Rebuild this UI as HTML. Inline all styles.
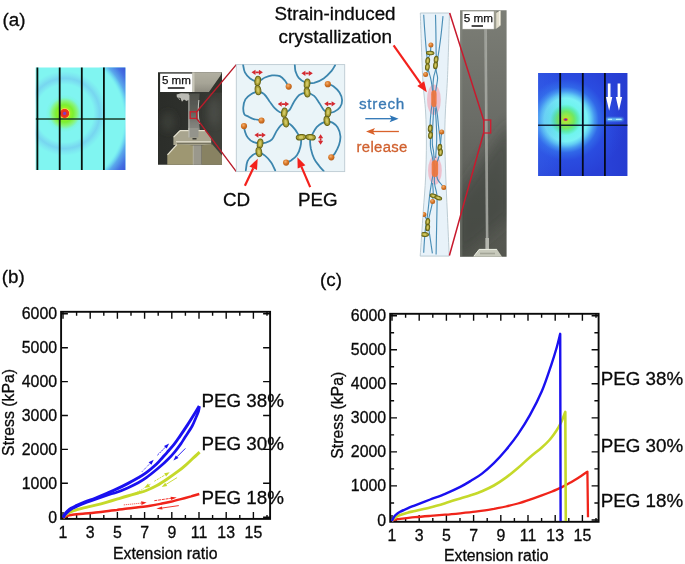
<!DOCTYPE html>
<html><head><meta charset="utf-8"><title>Figure</title>
<style>
html,body{margin:0;padding:0;background:#fff;}
body{width:685px;height:564px;overflow:hidden;font-family:"Liberation Sans",sans-serif;}
svg{display:block;}
text{font-family:"Liberation Sans",sans-serif;fill:#0a0a0a;stroke:#0a0a0a;stroke-width:0.3px;}
.tk{stroke:#0a0a0a;stroke-width:1.4;fill:none;}
.tl{font-size:15.9px;}
.big{font-size:18.8px;}
</style></head><body>
<svg width="685" height="564" viewBox="0 0 685 564">
<defs>

<radialGradient id="gL" gradientUnits="userSpaceOnUse" cx="64.6" cy="113.4" r="90">
<stop offset="0" stop-color="#7a3cc8"/>
<stop offset="0.012" stop-color="#8040c0"/>
<stop offset="0.024" stop-color="#e8301c"/>
<stop offset="0.046" stop-color="#ee3a1c"/>
<stop offset="0.054" stop-color="#f4d840"/>
<stop offset="0.064" stop-color="#98f028"/>
<stop offset="0.095" stop-color="#7cf030"/>
<stop offset="0.135" stop-color="#88f478"/>
<stop offset="0.175" stop-color="#7cf6e0"/>
<stop offset="0.21" stop-color="#80f5f1"/>
<stop offset="0.32" stop-color="#80f5f1"/>
<stop offset="0.35" stop-color="#7de7f1"/>
<stop offset="0.39" stop-color="#77d6f0"/>
<stop offset="0.43" stop-color="#7de7f1"/>
<stop offset="0.47" stop-color="#80f5f1"/>
<stop offset="1" stop-color="#80f5f1"/>
</radialGradient>
<radialGradient id="gLo" gradientUnits="userSpaceOnUse" cx="56.8" cy="119.3" r="95">
<stop offset="0" stop-color="#80f5f1" stop-opacity="0"/>
<stop offset="0.70" stop-color="#80f5f1" stop-opacity="0"/>
<stop offset="0.735" stop-color="#6cd8f2" stop-opacity="0.8"/>
<stop offset="0.77" stop-color="#5aa8ec" stop-opacity="1"/>
<stop offset="0.84" stop-color="#4470e2"/>
<stop offset="0.92" stop-color="#3850d4"/>
<stop offset="1" stop-color="#3040c8"/>
</radialGradient>
<radialGradient id="gR" gradientUnits="userSpaceOnUse" cx="565.7" cy="119.8" r="60">
<stop offset="0" stop-color="#b8e838"/>
<stop offset="0.07" stop-color="#9ce840"/>
<stop offset="0.14" stop-color="#70e862"/>
<stop offset="0.2" stop-color="#5cecb0"/>
<stop offset="0.26" stop-color="#70f4ee"/>
<stop offset="0.36" stop-color="#7af2f6"/>
<stop offset="0.42" stop-color="#62cef4"/>
<stop offset="0.48" stop-color="#4698f0"/>
<stop offset="0.55" stop-color="#3168e8"/>
<stop offset="0.68" stop-color="#2a4ce0"/>
<stop offset="1" stop-color="#2840d6"/>
</radialGradient>
<linearGradient id="gRv" x1="0" y1="0" x2="1" y2="0">
<stop offset="0" stop-color="#3a70f0" stop-opacity="0.35"/>
<stop offset="0.3" stop-color="#3a70f0" stop-opacity="0"/>
<stop offset="0.8" stop-color="#2030c0" stop-opacity="0"/>
<stop offset="1" stop-color="#2030c0" stop-opacity="0.25"/>
</linearGradient>
<filter id="b1" x="-20%" y="-20%" width="140%" height="140%"><feGaussianBlur stdDeviation="0.6"/></filter>
<filter id="b2" filterUnits="userSpaceOnUse" x="600" y="110" width="30" height="20"><feGaussianBlur stdDeviation="0.9"/></filter>
<clipPath id="cL"><rect x="35.6" y="67.6" width="89.8" height="102.3"/></clipPath>
<clipPath id="cR"><rect x="538.1" y="73.1" width="89.3" height="103"/></clipPath>

<linearGradient id="phbg" x1="0" y1="0" x2="1" y2="0.3">
<stop offset="0" stop-color="#2a2c28"/><stop offset="0.55" stop-color="#2e302c"/><stop offset="1" stop-color="#3e403a"/>
</linearGradient>
<linearGradient id="clampT" x1="0" y1="0" x2="0" y2="1">
<stop offset="0" stop-color="#b4b2a4"/><stop offset="0.6" stop-color="#a6a496"/><stop offset="1" stop-color="#8e8c80"/>
</linearGradient>
<linearGradient id="stripG" x1="0" y1="0" x2="1" y2="0">
<stop offset="0" stop-color="#c4c4bc"/><stop offset="0.2" stop-color="#8e8e88"/><stop offset="0.75" stop-color="#7c7c76"/><stop offset="1" stop-color="#b0b0a8"/>
</linearGradient>
<linearGradient id="stripV" x1="0" y1="0" x2="0" y2="1">
<stop offset="0" stop-color="#50524c"/><stop offset="0.4" stop-color="#5c5e58"/><stop offset="0.7" stop-color="#7e7e78"/><stop offset="1" stop-color="#90908a"/>
</linearGradient>
<filter id="bf3" filterUnits="userSpaceOnUse" x="150" y="60" width="80" height="110"><feGaussianBlur stdDeviation="3.5"/></filter>
<filter id="bf" filterUnits="userSpaceOnUse" x="150" y="60" width="80" height="110"><feGaussianBlur stdDeviation="0.7"/></filter>
<filter id="bf2" filterUnits="userSpaceOnUse" x="150" y="60" width="80" height="110"><feGaussianBlur stdDeviation="0.45"/></filter>
<clipPath id="cP"><rect x="158" y="72.3" width="64" height="92.5"/></clipPath>

<radialGradient id="bead" cx="0.4" cy="0.35" r="0.7"><stop offset="0" stop-color="#f4b070"/><stop offset="0.5" stop-color="#d87828"/><stop offset="1" stop-color="#b05a18"/></radialGradient>
<clipPath id="cS"><rect x="236.3" y="64.6" width="108.4" height="107"/></clipPath>

<linearGradient id="lpbg" x1="0" y1="0" x2="0.35" y2="1">
<stop offset="0" stop-color="#74766e"/><stop offset="0.35" stop-color="#686a62"/><stop offset="0.6" stop-color="#5a5c56"/><stop offset="0.8" stop-color="#46484300"/><stop offset="1" stop-color="#3c3e3a00"/>
</linearGradient>
<linearGradient id="lpbg2" x1="0" y1="0" x2="0" y2="1">
<stop offset="0" stop-color="#7c7e76"/><stop offset="0.45" stop-color="#6a6c66"/><stop offset="0.75" stop-color="#5a5c56"/><stop offset="1" stop-color="#54564f"/>
</linearGradient>
<radialGradient id="pinkG"><stop offset="0" stop-color="#f08a90" stop-opacity="0.75"/><stop offset="0.7" stop-color="#f0a0a8" stop-opacity="0.6"/><stop offset="1" stop-color="#f0b0b8" stop-opacity="0.15"/></radialGradient>
<radialGradient id="orgG"><stop offset="0" stop-color="#f2702c"/><stop offset="0.7" stop-color="#f0783a"/><stop offset="1" stop-color="#f08a5a" stop-opacity="0.5"/></radialGradient>
<filter id="bl5" filterUnits="userSpaceOnUse" x="440" y="80" width="90" height="200"><feGaussianBlur stdDeviation="7"/></filter>
<filter id="bl4" filterUnits="userSpaceOnUse" x="455" y="5" width="60" height="260"><feGaussianBlur stdDeviation="0.5"/></filter>
<clipPath id="cLP"><rect x="460.1" y="10.2" width="46.5" height="246.6"/></clipPath>

</defs>
<rect width="685" height="564" fill="#fff"/>

<g id="graph-b">
<rect x="61.1" y="311.8" width="209.00000000000003" height="207.09999999999997" fill="none" stroke="#0a0a0a" stroke-width="1.9"/>
<path class="tk" d="M63.0 518.9v-6.9M63.0 311.8v6.9M76.6 518.9v-3.9M76.6 311.8v3.9M90.2 518.9v-6.9M90.2 311.8v6.9M103.8 518.9v-3.9M103.8 311.8v3.9M117.4 518.9v-6.9M117.4 311.8v6.9M131.0 518.9v-3.9M131.0 311.8v3.9M144.6 518.9v-6.9M144.6 311.8v6.9M158.2 518.9v-3.9M158.2 311.8v3.9M171.8 518.9v-6.9M171.8 311.8v6.9M185.4 518.9v-3.9M185.4 311.8v3.9M199.0 518.9v-6.9M199.0 311.8v6.9M212.6 518.9v-3.9M212.6 311.8v3.9M226.2 518.9v-6.9M226.2 311.8v6.9M239.8 518.9v-3.9M239.8 311.8v3.9M253.4 518.9v-6.9M253.4 311.8v6.9M267.0 518.9v-3.9M267.0 311.8v3.9M61.1 517.2h6.8M270.1 517.2h-7M61.1 483.3h6.8M270.1 483.3h-7M61.1 449.4h6.8M270.1 449.4h-7M61.1 415.5h6.8M270.1 415.5h-7M61.1 381.6h6.8M270.1 381.6h-7M61.1 347.7h6.8M270.1 347.7h-7M61.1 313.8h6.8M270.1 313.8h-7"/>
<text class="tl" x="57.1" y="522.7" text-anchor="end">0</text>
<text class="tl" x="57.1" y="488.8" text-anchor="end">1000</text>
<text class="tl" x="57.1" y="454.9" text-anchor="end">2000</text>
<text class="tl" x="57.1" y="421.0" text-anchor="end">3000</text>
<text class="tl" x="57.1" y="387.1" text-anchor="end">4000</text>
<text class="tl" x="57.1" y="353.2" text-anchor="end">5000</text>
<text class="tl" x="57.1" y="319.3" text-anchor="end">6000</text>
<text class="tl" x="63.0" y="538.4" text-anchor="middle">1</text>
<text class="tl" x="90.2" y="538.4" text-anchor="middle">3</text>
<text class="tl" x="117.4" y="538.4" text-anchor="middle">5</text>
<text class="tl" x="144.6" y="538.4" text-anchor="middle">7</text>
<text class="tl" x="171.8" y="538.4" text-anchor="middle">9</text>
<text class="tl" x="199.0" y="538.4" text-anchor="middle">11</text>
<text class="tl" x="226.2" y="538.4" text-anchor="middle">13</text>
<text class="tl" x="253.4" y="538.4" text-anchor="middle">15</text>
<text x="113" y="559" style="font-size:15.8px">Extension ratio</text>
<text transform="translate(13.8,455.9) rotate(-90)" style="font-size:15.8px">Stress (kPa)</text>
<text class="big" x="1.8" y="283.2">(b)</text>
<path d="M63.2 518.0C63.5 517.8 64.2 517.1 64.8 516.8C65.4 516.5 65.7 516.3 66.7 516.0C67.8 515.7 68.0 515.3 71.1 514.9C74.1 514.5 80.9 514.0 85.0 513.6C89.1 513.2 92.0 512.9 95.6 512.5C99.1 512.1 102.8 511.7 106.3 511.3C109.8 510.9 113.4 510.3 116.9 509.9C120.5 509.4 124.0 509.1 127.6 508.6C131.1 508.2 134.4 507.7 138.2 507.2C142.0 506.7 146.5 506.4 150.2 505.8C153.9 505.2 157.0 504.6 160.4 503.9C163.8 503.2 167.3 502.5 170.7 501.7C174.1 500.9 177.5 500.0 180.9 499.1C184.3 498.2 188.0 497.2 191.1 496.4C194.2 495.5 197.9 494.4 199.3 494.0" fill="none" stroke="#f0241a" stroke-width="2.5" stroke-linecap="butt"/>
<path d="M63.2 517.8C63.5 517.5 64.2 516.4 64.8 515.8C65.4 515.2 65.7 514.8 66.7 514.1C67.8 513.4 69.4 512.3 71.1 511.6C72.8 510.9 74.6 510.4 76.9 509.7C79.2 509.0 81.9 508.4 85.0 507.6C88.1 506.9 92.0 506.1 95.6 505.2C99.1 504.3 102.8 503.3 106.3 502.3C109.8 501.3 113.4 500.2 116.9 499.2C120.5 498.1 124.0 497.0 127.6 496.0C131.1 495.0 135.1 493.9 138.2 493.0C141.3 492.1 143.2 491.7 146.3 490.5C149.4 489.3 153.4 487.6 156.9 485.6C160.4 483.7 164.1 481.2 167.6 478.8C171.1 476.4 175.1 473.5 178.2 471.2C181.3 468.9 183.5 467.0 186.0 464.8C188.5 462.6 191.1 460.0 193.4 457.9C195.7 455.8 198.6 453.1 199.6 452.1" fill="none" stroke="#c5d92a" stroke-width="2.9" stroke-linecap="butt"/>
<path d="M63.2 517.6C63.5 517.2 64.2 516.0 64.8 515.2C65.4 514.4 65.8 513.7 66.9 512.7C68.0 511.7 69.6 510.2 71.3 509.1C73.0 508.0 74.8 507.2 77.1 506.2C79.4 505.2 81.9 504.1 85.0 502.9C88.1 501.7 92.0 500.4 95.6 499.2C99.1 497.9 102.8 496.6 106.3 495.4C109.8 494.2 113.4 493.4 116.9 492.2C120.5 490.9 124.0 489.5 127.6 487.9C131.1 486.3 135.1 484.4 138.2 482.7C141.3 481.0 143.2 479.9 146.3 477.6C149.4 475.4 154.0 471.6 156.9 469.2C159.8 466.8 161.8 465.1 163.6 463.5C165.4 461.9 166.1 461.2 168.0 459.3C169.9 457.4 172.6 454.4 174.8 451.8C177.0 449.2 179.3 446.0 181.0 443.6C182.7 441.2 183.1 440.1 185.0 437.2C186.9 434.3 190.4 429.3 192.2 426.0C194.0 422.7 194.9 420.0 196.0 417.5C197.1 415.0 198.0 412.9 198.6 411.0C199.2 409.1 199.3 407.1 199.4 406.3" fill="none" stroke="#1a10f0" stroke-width="2.7" stroke-linecap="butt"/>
<path d="M63.2 517.6C63.4 517.1 64.0 515.6 64.6 514.6C65.2 513.6 65.6 512.9 66.7 511.9C67.8 510.8 69.4 509.4 71.1 508.3C72.8 507.2 74.6 506.5 76.9 505.4C79.2 504.3 81.9 503.1 85.0 501.9C88.1 500.7 92.0 499.4 95.6 498.0C99.1 496.6 102.8 495.1 106.3 493.6C109.8 492.1 113.4 490.6 116.9 488.9C120.5 487.2 124.0 485.5 127.6 483.6C131.1 481.7 135.1 479.5 138.2 477.7C141.3 475.9 143.2 474.9 146.3 472.6C149.4 470.3 153.9 466.5 156.6 464.0C159.3 461.5 160.6 459.7 162.4 457.7C164.2 455.7 165.5 454.3 167.6 451.9C169.7 449.5 172.7 446.1 174.8 443.4C176.9 440.7 178.2 438.6 180.3 435.6C182.4 432.6 185.0 428.8 187.2 425.4C189.4 422.0 191.4 418.7 193.4 415.5C195.4 412.3 198.2 407.7 199.2 406.1" fill="none" stroke="#1a10f0" stroke-width="2.9" stroke-linecap="butt"/>
<path d="M142.0 471.7L150.0 463.5" stroke="#1a10f0" stroke-width="0.9" fill="none" stroke-dasharray="1 1"/>
<path d="M153.7 459.7L151.4 464.8L148.6 462.2Z" fill="#1a10f0"/>
<path d="M157.4 455.2L165.4 447.2" stroke="#1a10f0" stroke-width="0.9" fill="none" stroke-dasharray="2.2 0.8"/>
<path d="M169.1 443.5L166.7 448.6L164.0 445.9Z" fill="#1a10f0"/>
<path d="M185.4 448.4L177.1 456.7" stroke="#1a10f0" stroke-width="0.9" fill="none"/>
<path d="M173.4 460.5L175.8 455.4L178.5 458.1Z" fill="#1a10f0"/>
<path d="M154.3 481.3L165.1 474.9" stroke="#c5d92a" stroke-width="0.9" fill="none" stroke-dasharray="2.2 0.8"/>
<path d="M169.7 472.2L166.1 476.5L164.2 473.3Z" fill="#c5d92a"/>
<path d="M150.4 484.3L149.0 485.1" stroke="#c5d92a" stroke-width="0.9" fill="none"/>
<path d="M144.1 487.9L148.0 483.4L150.0 486.9Z" fill="#c5d92a"/>
<path d="M135.6 493L143.6 488.7" stroke="#c5d92a" stroke-width="0.9" stroke-dasharray="1 1" fill="none"/>
<path d="M177.1 477.6L166.2 484.3" stroke="#c5d92a" stroke-width="0.9" fill="none"/>
<path d="M161.7 487.1L165.2 482.7L167.2 485.9Z" fill="#c5d92a"/>
<path d="M123.8 504.9L141.3 503.1" stroke="#f0241a" stroke-width="0.9" fill="none" stroke-dasharray="1 1"/>
<path d="M146.6 502.5L141.5 504.9L141.1 501.2Z" fill="#f0241a"/>
<path d="M154.3 500.7L170.9 498.3" stroke="#f0241a" stroke-width="0.9" fill="none" stroke-dasharray="3 0.8"/>
<path d="M176.8 497.4L171.1 499.9L170.6 496.7Z" fill="#f0241a"/>
<path d="M178.8 505.6L162.2 508.0" stroke="#f0241a" stroke-width="0.9" fill="none"/>
<path d="M156.3 508.8L162.0 506.4L162.5 509.5Z" fill="#f0241a"/>
<text class="big" x="201.4" y="407.2">PEG 38%</text>
<text class="big" x="201.4" y="449.6">PEG 30%</text>
<text class="big" x="201.4" y="504.2">PEG 18%</text>
</g>
<g id="graph-c">
<rect x="390.2" y="313.8" width="208.40000000000003" height="207.99999999999994" fill="none" stroke="#0a0a0a" stroke-width="1.9"/>
<path class="tk" d="M392.0 521.8v-6.9M392.0 313.8v6.9M405.6 521.8v-3.9M405.6 313.8v3.9M419.2 521.8v-6.9M419.2 313.8v6.9M432.8 521.8v-3.9M432.8 313.8v3.9M446.4 521.8v-6.9M446.4 313.8v6.9M460.0 521.8v-3.9M460.0 313.8v3.9M473.6 521.8v-6.9M473.6 313.8v6.9M487.2 521.8v-3.9M487.2 313.8v3.9M500.8 521.8v-6.9M500.8 313.8v6.9M514.4 521.8v-3.9M514.4 313.8v3.9M528.0 521.8v-6.9M528.0 313.8v6.9M541.6 521.8v-3.9M541.6 313.8v3.9M555.2 521.8v-6.9M555.2 313.8v6.9M568.8 521.8v-3.9M568.8 313.8v3.9M582.4 521.8v-6.9M582.4 313.8v6.9M596.0 521.8v-3.9M596.0 313.8v3.9M390.2 520.0h6.8M598.6 520.0h-7M390.2 485.9h6.8M598.6 485.9h-7M390.2 451.9h6.8M598.6 451.9h-7M390.2 417.9h6.8M598.6 417.9h-7M390.2 383.8h6.8M598.6 383.8h-7M390.2 349.8h6.8M598.6 349.8h-7M390.2 315.7h6.8M598.6 315.7h-7M390.2 503.0h3.9M598.6 503.0h-4.2M390.2 468.9h3.9M598.6 468.9h-4.2M390.2 434.9h3.9M598.6 434.9h-4.2M390.2 400.8h3.9M598.6 400.8h-4.2M390.2 366.8h3.9M598.6 366.8h-4.2M390.2 332.7h3.9M598.6 332.7h-4.2"/>
<text class="tl" x="386.2" y="525.5" text-anchor="end">0</text>
<text class="tl" x="386.2" y="491.4" text-anchor="end">1000</text>
<text class="tl" x="386.2" y="457.4" text-anchor="end">2000</text>
<text class="tl" x="386.2" y="423.4" text-anchor="end">3000</text>
<text class="tl" x="386.2" y="389.3" text-anchor="end">4000</text>
<text class="tl" x="386.2" y="355.2" text-anchor="end">5000</text>
<text class="tl" x="386.2" y="321.2" text-anchor="end">6000</text>
<text class="tl" x="392.0" y="541.3" text-anchor="middle">1</text>
<text class="tl" x="419.2" y="541.3" text-anchor="middle">3</text>
<text class="tl" x="446.4" y="541.3" text-anchor="middle">5</text>
<text class="tl" x="473.6" y="541.3" text-anchor="middle">7</text>
<text class="tl" x="500.8" y="541.3" text-anchor="middle">9</text>
<text class="tl" x="528.0" y="541.3" text-anchor="middle">11</text>
<text class="tl" x="555.2" y="541.3" text-anchor="middle">13</text>
<text class="tl" x="582.4" y="541.3" text-anchor="middle">15</text>
<text x="444" y="560.6" style="font-size:15.8px">Extension ratio</text>
<text transform="translate(342.8,458.7) rotate(-90)" style="font-size:15.8px">Stress (kPa)</text>
<text class="big" x="320" y="286">(c)</text>
<path d="M391.8 521.0C392.1 520.9 392.9 520.4 393.5 520.2C394.1 520.0 394.4 519.8 395.5 519.6C396.6 519.4 396.8 519.3 400.1 518.9C403.4 518.5 410.1 517.7 415.1 517.2C420.1 516.7 425.2 516.3 430.2 515.9C435.2 515.5 440.2 515.1 445.2 514.7C450.2 514.3 455.3 513.8 460.3 513.3C465.3 512.8 471.3 512.2 475.4 511.7C479.5 511.2 481.9 510.9 485.0 510.4C488.1 509.9 490.4 509.5 493.9 508.9C497.4 508.2 501.9 507.4 505.9 506.5C509.9 505.6 513.9 504.6 517.9 503.5C521.9 502.4 525.9 501.0 529.9 499.6C533.9 498.2 538.2 496.7 541.8 495.4C545.4 494.1 548.3 493.0 551.5 491.7C554.7 490.4 557.9 489.1 561.0 487.6C564.1 486.1 567.2 484.4 570.0 482.8C572.8 481.2 574.8 480.1 577.7 478.2C580.6 476.3 585.8 472.7 587.4 471.6L588.0 517.2" fill="none" stroke="#f0241a" stroke-width="2.3" stroke-linejoin="round"/>
<path d="M391.8 521.0C392.1 520.7 392.9 519.6 393.5 519.0C394.1 518.4 394.4 518.0 395.5 517.3C396.6 516.6 398.1 515.8 400.1 515.0C402.1 514.2 405.1 513.4 407.6 512.7C410.1 512.0 411.3 511.8 415.1 510.9C418.9 510.0 425.2 508.8 430.2 507.5C435.2 506.2 440.2 504.7 445.2 503.2C450.2 501.7 456.2 499.7 460.3 498.4C464.4 497.1 466.4 496.7 470.0 495.5C473.6 494.3 478.0 492.9 482.0 491.2C486.0 489.5 489.9 487.8 493.9 485.5C497.9 483.2 501.9 480.5 505.9 477.6C509.9 474.7 513.9 471.4 517.9 468.0C521.9 464.6 525.9 460.6 529.9 457.2C533.9 453.8 538.6 450.3 541.8 447.5C545.0 444.7 547.0 442.7 549.0 440.5C551.0 438.3 552.2 436.7 553.8 434.5C555.4 432.3 557.2 429.5 558.6 427.1C560.0 424.7 561.1 422.4 562.2 419.9C563.3 417.4 564.8 413.2 565.3 411.9L565.8 521" fill="none" stroke="#c5d92a" stroke-width="2.6" stroke-linejoin="round"/>
<path d="M391.8 521.1C392.1 520.5 392.9 518.8 393.5 517.8C394.1 516.8 394.4 516.1 395.5 515.1C396.6 514.1 398.1 512.9 400.1 511.8C402.1 510.7 405.1 509.4 407.6 508.3C410.1 507.2 411.3 506.8 415.1 505.3C418.9 503.8 425.2 501.4 430.2 499.5C435.2 497.6 440.2 495.9 445.2 493.8C450.2 491.7 455.8 489.2 460.3 486.9C464.8 484.6 468.4 482.3 472.0 480.1C475.6 477.9 478.4 476.4 482.0 473.6C485.6 470.8 489.9 467.0 493.9 463.1C497.9 459.2 501.9 454.8 505.9 450.0C509.9 445.2 513.9 440.2 517.9 434.4C521.9 428.6 525.9 422.4 529.9 415.2C533.9 408.0 538.2 399.7 541.8 391.3C545.4 382.9 548.8 372.1 551.3 364.8C553.8 357.5 555.2 352.7 556.7 347.5C558.2 342.3 559.6 336.1 560.2 333.8L560.6 521" fill="none" stroke="#1a10f0" stroke-width="2.4" stroke-linejoin="round"/>
<text class="big" x="600.7" y="384.6">PEG 38%</text>
<text class="big" x="600.7" y="452">PEG 30%</text>
<text class="big" x="600.7" y="507">PEG 18%</text>
</g>
<g id="panel-a">
<text class="big" x="2.5" y="25.8">(a)</text>
<text x="335" y="19.9" text-anchor="middle" style="font-size:18.8px">Strain-induced</text>
<text x="335.3" y="42.7" text-anchor="middle" style="font-size:18.9px">crystallization</text>
<text class="big" x="223" y="206">CD</text>
<text class="big" x="298" y="206">PEG</text>

<g id="photo-left" clip-path="url(#cP)">
<rect x="157" y="71" width="65" height="95" fill="url(#phbg)"/>
<g filter="url(#bf3)">
<ellipse cx="214" cy="112" rx="6" ry="14" fill="#4e504a" opacity="0.8"/>
<ellipse cx="168" cy="122" rx="7" ry="10" fill="#40423c" opacity="0.7"/>
</g>
<g filter="url(#bf2)">
<rect x="192.3" y="70" width="30" height="22" fill="url(#clampT)"/>
<path d="M220.2 76L222.2 71.5V92.4H208.6Z" fill="#32342e"/>
<rect x="192.3" y="70" width="2.2" height="22" fill="#c8c6b8"/>
</g>
<g filter="url(#bf)">
<path d="M176.5 94.5l4.5-1.3l8 0.2l0.5 6l-3 1.6l-2.5-1.5l-2 2.2l-1.5-3.6l-3.5-0.8z" fill="#d4d4cc" opacity="0.85"/>
<path d="M177 96l3 4M180 95l2.5 6" stroke="#c0c0b8" stroke-width="0.7"/>
</g>
<g filter="url(#bf2)">
<path d="M188.8 93.5L199.6 93.5C198.4 108 198.4 122 200.6 136L188.6 136Z" fill="url(#stripV)"/>
<path d="M188.9 95V136" stroke="#d0d0c8" stroke-width="0.9"/>
<path d="M198.9 100C197.9 108 197.9 116 199.6 124" stroke="#e0e0d8" stroke-width="0.8" fill="none"/>
<path d="M173.4 137L180 130.3H205.1L211.2 137V145H173.4Z" fill="#a9a58f"/>
<path d="M180 130.6H205" stroke="#e4e0ce" stroke-width="1.2"/>
<path d="M173.6 137.2L180 130.6" stroke="#e8e4d4" stroke-width="1.2"/>
<path d="M188.8 128L198.6 128L198.4 137.5L188.8 137.5Z" fill="#94948c"/>
<path d="M189 128V137.5" stroke="#c8c8c0" stroke-width="0.9"/>
<path d="M192.5 138.8h4" stroke="#22221e" stroke-width="1.2"/>
<path d="M177 144.3L167.3 154.9V166H193.3V145.2Z" fill="#9e9772"/>
<path d="M201.5 145.2L212.2 144.3L222.3 155.9V166H201.5Z" fill="#888262"/>
<path d="M193.3 145.2H201.5V166H193.3Z" fill="#9a988c"/>
<path d="M176 141.6H211" stroke="#d8d4c2" stroke-width="1.3"/>
<path d="M177 143.6H211.5" stroke="#6a6856" stroke-width="0.9"/>
<path d="M176.8 144.6L167.5 154.9" stroke="#e6e2d0" stroke-width="1.3"/>
<path d="M193.3 145.5V166" stroke="#c4c0ae" stroke-width="0.8"/>
</g>
<rect x="160.1" y="73.6" width="32.2" height="18.4" fill="#fff"/>
<text x="161.9" y="84.4" style="font-size:11.6px;fill:#111;stroke:#111;stroke-width:0.25px">5 mm</text>
<path d="M167.8 88.1H184.6" stroke="#111" stroke-width="1.5"/>
<rect x="190.2" y="111.8" width="6.4" height="6.6" fill="none" stroke="#c8202c" stroke-width="1.3"/>
</g>
<path d="M196.6 112L236.3 64.6M196.6 118.4L236.3 171.6" stroke="#b81c2a" stroke-width="1.4" fill="none"/>

<g id="network-box"><rect x="236.3" y="64.6" width="108.4" height="107" fill="#eaf4f8" stroke="#bccad2" stroke-width="0.9"/><g clip-path="url(#cS)"><path d="M243.1 64.9C243.4 66.1 243.7 70.0 244.9 72.3C246.1 74.5 248.0 76.9 250.1 78.4C252.3 79.9 255.2 81.5 257.7 81.4C260.2 81.2 262.6 78.5 265.0 77.5C267.4 76.5 269.6 75.7 272.0 75.4C274.5 75.2 277.7 75.2 279.9 76.1C282.1 77.1 283.8 79.3 285.2 81.0C286.6 82.7 287.7 85.4 288.2 86.3" fill="none" stroke="#3c86ae" stroke-width="1.8" stroke-linecap="round"/><path d="M258.0 91.2C256.9 91.7 253.1 92.8 251.0 94.2C248.9 95.5 246.7 97.2 245.4 99.4C244.1 101.6 243.5 104.8 243.3 107.3C243.1 109.8 243.7 112.8 244.4 114.3C245.1 115.8 246.0 115.3 247.5 116.1C249.1 116.9 251.5 118.5 253.7 119.1C255.8 119.8 259.1 119.8 260.1 120.0" fill="none" stroke="#3c86ae" stroke-width="1.8" stroke-linecap="round"/><path d="M258.0 91.2C259.1 91.7 262.3 92.5 264.2 94.2C266.1 95.8 267.7 98.8 269.4 101.2C271.2 103.5 272.9 106.3 274.7 108.2C276.4 110.0 278.3 111.5 279.9 112.2C281.6 112.9 283.1 112.9 284.7 112.6C286.3 112.2 288.0 111.7 289.6 109.9C291.1 108.2 292.3 104.5 293.9 102.0C295.6 99.6 297.0 96.6 299.2 95.0C301.4 93.5 304.6 92.8 307.1 92.9C309.6 93.1 312.0 94.3 314.1 95.9C316.1 97.6 317.7 100.6 319.3 102.9C321.0 105.3 322.3 108.3 323.7 109.9C325.2 111.5 326.4 112.3 328.1 112.6C329.9 112.8 332.3 112.6 334.2 111.7C336.2 110.8 338.7 109.2 340.0 107.3C341.3 105.4 342.2 102.8 342.1 100.3C342.0 97.8 341.0 94.7 339.5 92.4C338.0 90.1 335.2 87.7 333.4 86.3C331.5 84.9 329.3 84.5 328.5 84.2" fill="none" stroke="#3c86ae" stroke-width="1.8" stroke-linecap="round"/><path d="M294.8 64.9C294.9 66.0 294.9 69.2 295.5 71.4C296.2 73.5 297.0 76.0 298.7 77.9C300.3 79.7 302.8 81.6 305.3 82.4C307.9 83.2 311.0 83.4 314.1 82.8C317.2 82.1 320.8 80.4 323.7 78.4C326.6 76.4 329.7 73.1 331.6 70.9C333.5 68.7 334.5 66.2 335.1 65.3" fill="none" stroke="#3c86ae" stroke-width="1.8" stroke-linecap="round"/><path d="M244.0 126.1C244.2 127.1 244.4 130.0 245.1 131.9C245.7 133.8 246.5 136.0 247.9 137.7C249.2 139.3 251.1 141.0 253.1 141.9C255.1 142.8 257.7 143.2 259.8 143.3C261.9 143.4 263.9 143.2 265.9 142.6C268.0 141.9 270.3 141.3 272.0 139.4C273.8 137.6 275.0 133.7 276.4 131.4C277.9 129.0 279.3 126.9 280.8 125.4C282.4 124.0 284.1 122.8 285.7 122.6C287.3 122.4 288.9 123.2 290.4 124.4C292.0 125.5 293.7 127.7 295.2 129.6C296.6 131.5 298.2 134.5 299.2 135.9C300.2 137.3 300.7 136.2 301.0 138.0C301.2 139.8 301.1 143.9 300.4 146.8C299.8 149.7 298.5 152.9 296.9 155.2C295.3 157.5 292.7 159.2 291.0 160.5C289.2 161.7 287.2 162.2 286.4 162.6" fill="none" stroke="#3c86ae" stroke-width="1.8" stroke-linecap="round"/><path d="M245.8 170.4C246.1 168.9 246.4 163.7 247.5 161.2C248.7 158.6 250.9 156.4 252.8 155.0C254.7 153.7 256.9 152.8 258.9 152.9C261.0 153.0 263.0 153.9 265.0 155.6C267.1 157.2 269.5 160.1 271.2 162.6C272.9 165.0 274.5 169.1 275.2 170.4" fill="none" stroke="#3c86ae" stroke-width="1.8" stroke-linecap="round"/><path d="M323.7 171.0C322.9 170.1 320.6 167.8 319.0 165.7C317.4 163.7 315.4 161.5 314.1 158.7C312.7 155.9 311.6 152.0 310.9 148.9C310.3 145.7 309.9 142.3 310.2 139.8C310.5 137.2 311.6 135.8 312.7 133.7C313.8 131.5 315.2 128.9 316.7 127.2C318.3 125.4 320.2 124.1 322.0 123.1C323.7 122.2 325.5 121.7 327.2 121.6C329.0 121.5 330.7 121.6 332.5 122.6C334.2 123.6 336.4 125.2 337.7 127.5C339.1 129.8 340.2 133.4 340.4 136.3C340.6 139.2 339.9 142.2 339.0 145.0C338.0 147.9 336.0 151.5 334.8 153.4C333.5 155.4 332.1 156.4 331.6 157.0" fill="none" stroke="#3c86ae" stroke-width="1.8" stroke-linecap="round"/><circle cx="288.7" cy="86.6" r="3.1" fill="url(#bead)"/><circle cx="327.8" cy="84.2" r="3.1" fill="url(#bead)"/><circle cx="261.5" cy="120.5" r="3.1" fill="url(#bead)"/><circle cx="244.0" cy="126.1" r="3.1" fill="url(#bead)"/><circle cx="286.1" cy="162.6" r="3.1" fill="url(#bead)"/><circle cx="331.3" cy="157.3" r="3.1" fill="url(#bead)"/><ellipse cx="257.7" cy="81.0" rx="2.8" ry="4.7" transform="rotate(8 257.7 81.0)" fill="#aca234" stroke="#66641a" stroke-width="1.0"/><ellipse cx="257.7" cy="81.0" rx="1.26" ry="2.59" transform="rotate(8 257.7 81.0)" fill="#d8d070" opacity="0.8"/><ellipse cx="258.0" cy="90.1" rx="2.8" ry="4.7" transform="rotate(-10 258.0 90.1)" fill="#aca234" stroke="#66641a" stroke-width="1.0"/><ellipse cx="258.0" cy="90.1" rx="1.26" ry="2.59" transform="rotate(-10 258.0 90.1)" fill="#d8d070" opacity="0.8"/><ellipse cx="307.1" cy="83.7" rx="2.8" ry="4.7" transform="rotate(8 307.1 83.7)" fill="#aca234" stroke="#66641a" stroke-width="1.0"/><ellipse cx="307.1" cy="83.7" rx="1.26" ry="2.59" transform="rotate(8 307.1 83.7)" fill="#d8d070" opacity="0.8"/><ellipse cx="307.1" cy="92.4" rx="2.8" ry="4.7" transform="rotate(-10 307.1 92.4)" fill="#aca234" stroke="#66641a" stroke-width="1.0"/><ellipse cx="307.1" cy="92.4" rx="1.26" ry="2.59" transform="rotate(-10 307.1 92.4)" fill="#d8d070" opacity="0.8"/><ellipse cx="284.3" cy="112.6" rx="2.8" ry="4.7" transform="rotate(8 284.3 112.6)" fill="#aca234" stroke="#66641a" stroke-width="1.0"/><ellipse cx="284.3" cy="112.6" rx="1.26" ry="2.59" transform="rotate(8 284.3 112.6)" fill="#d8d070" opacity="0.8"/><ellipse cx="285.7" cy="122.3" rx="2.8" ry="4.7" transform="rotate(-10 285.7 122.3)" fill="#aca234" stroke="#66641a" stroke-width="1.0"/><ellipse cx="285.7" cy="122.3" rx="1.26" ry="2.59" transform="rotate(-10 285.7 122.3)" fill="#d8d070" opacity="0.8"/><ellipse cx="328.1" cy="112.2" rx="2.8" ry="4.7" transform="rotate(8 328.1 112.2)" fill="#aca234" stroke="#66641a" stroke-width="1.0"/><ellipse cx="328.1" cy="112.2" rx="1.26" ry="2.59" transform="rotate(8 328.1 112.2)" fill="#d8d070" opacity="0.8"/><ellipse cx="326.9" cy="120.9" rx="2.8" ry="4.7" transform="rotate(-10 326.9 120.9)" fill="#aca234" stroke="#66641a" stroke-width="1.0"/><ellipse cx="326.9" cy="120.9" rx="1.26" ry="2.59" transform="rotate(-10 326.9 120.9)" fill="#d8d070" opacity="0.8"/><ellipse cx="260.1" cy="143.6" rx="2.8" ry="4.7" transform="rotate(8 260.1 143.6)" fill="#aca234" stroke="#66641a" stroke-width="1.0"/><ellipse cx="260.1" cy="143.6" rx="1.26" ry="2.59" transform="rotate(8 260.1 143.6)" fill="#d8d070" opacity="0.8"/><ellipse cx="258.9" cy="152.0" rx="2.8" ry="4.7" transform="rotate(-10 258.9 152.0)" fill="#aca234" stroke="#66641a" stroke-width="1.0"/><ellipse cx="258.9" cy="152.0" rx="1.26" ry="2.59" transform="rotate(-10 258.9 152.0)" fill="#d8d070" opacity="0.8"/><ellipse cx="301.0" cy="137.2" rx="4.8" ry="2.7" transform="rotate(-8 301.0 137.2)" fill="#aca234" stroke="#66641a" stroke-width="1.0"/><ellipse cx="301.0" cy="137.2" rx="2.16" ry="1.49" transform="rotate(-8 301.0 137.2)" fill="#d8d070" opacity="0.8"/><ellipse cx="310.6" cy="137.2" rx="4.8" ry="2.7" transform="rotate(8 310.6 137.2)" fill="#aca234" stroke="#66641a" stroke-width="1.0"/><ellipse cx="310.6" cy="137.2" rx="2.16" ry="1.49" transform="rotate(8 310.6 137.2)" fill="#d8d070" opacity="0.8"/><path d="M255.5 72.3H258.9" stroke="#d42a30" stroke-width="1.7"/><path d="M251.5 72.3l4.0 -2.6v5.2zM262.9 72.3l-4.0 -2.6v5.2z" fill="#d42a30"/><path d="M305.4 73.3H308.8" stroke="#d42a30" stroke-width="1.7"/><path d="M301.4 73.3l4.0 -2.6v5.2zM312.8 73.3l-4.0 -2.6v5.2z" fill="#d42a30"/><path d="M281.7 104.1H285.1" stroke="#d42a30" stroke-width="1.7"/><path d="M277.7 104.1l4.0 -2.6v5.2zM289.1 104.1l-4.0 -2.6v5.2z" fill="#d42a30"/><path d="M328.2 103.8H331.6" stroke="#d42a30" stroke-width="1.7"/><path d="M324.2 103.8l4.0 -2.6v5.2zM335.6 103.8l-4.0 -2.6v5.2z" fill="#d42a30"/><path d="M258.4 135.1H261.8" stroke="#d42a30" stroke-width="1.7"/><path d="M254.4 135.1l4.0 -2.6v5.2zM265.8 135.1l-4.0 -2.6v5.2z" fill="#d42a30"/><path d="M320.6 138.2V140.7" stroke="#d42a30" stroke-width="1.7"/><path d="M320.6 134.2l-2.6 4.0h5.2zM320.6 144.7l-2.6 -4.0h5.2z" fill="#d42a30"/></g></g>
<g id="stretched"><path d="M420.3 13.0C420.7 23.8 421.8 61.1 422.7 77.6C423.6 94.1 425.0 101.3 425.6 112.0C426.2 122.7 426.4 131.2 426.4 142.0C426.4 152.8 426.1 165.3 425.6 177.0C425.1 188.7 424.1 198.8 423.2 212.0C422.3 225.2 420.7 248.8 420.2 256.1L449.2 256.1C448.9 248.8 447.9 225.2 447.3 212.0C446.7 198.8 446.2 188.7 445.8 177.0C445.4 165.3 444.9 152.8 444.8 142.0C444.7 131.2 444.9 122.7 445.4 112.0C445.8 101.3 446.8 94.1 447.5 77.6C448.2 61.1 449.2 23.8 449.5 13.0Z" fill="#e8f2f9" stroke="#b6c6ce" stroke-width="0.9"/><clipPath id="cH"><path d="M420.3 13.0C420.7 23.8 421.8 61.1 422.7 77.6C423.6 94.1 425.0 101.3 425.6 112.0C426.2 122.7 426.4 131.2 426.4 142.0C426.4 152.8 426.1 165.3 425.6 177.0C425.1 188.7 424.1 198.8 423.2 212.0C422.3 225.2 420.7 248.8 420.2 256.1L449.2 256.1C448.9 248.8 447.9 225.2 447.3 212.0C446.7 198.8 446.2 188.7 445.8 177.0C445.4 165.3 444.9 152.8 444.8 142.0C444.7 131.2 444.9 122.7 445.4 112.0C445.8 101.3 446.8 94.1 447.5 77.6C448.2 61.1 449.2 23.8 449.5 13.0Z"/></clipPath><g clip-path="url(#cH)"><ellipse cx="433.9" cy="99.8" rx="6.9" ry="15.3" fill="#f2a2b2" opacity="0.62"/><ellipse cx="434.9" cy="170.4" rx="6.9" ry="14.4" fill="#f2a2b2" opacity="0.62"/><path d="M423.7 14.8C423.9 17.8 424.4 26.7 424.9 32.8C425.3 38.9 426.0 46.9 426.4 51.5C426.8 56.1 427.1 57.1 427.4 60.2C427.7 63.3 427.9 67.2 428.4 70.1C428.9 73.0 429.9 74.9 430.5 77.6C431.1 80.2 431.6 82.6 432.0 86.0C432.4 89.4 433.2 93.7 433.0 98.0C432.8 102.3 431.5 107.2 431.0 112.0C430.5 116.8 430.1 123.0 430.0 127.0C429.9 131.0 430.4 132.7 430.5 136.0C430.6 139.3 430.2 143.3 430.5 147.0C430.8 150.7 431.9 154.5 432.5 158.0C433.1 161.5 434.2 163.8 434.0 168.0C433.8 172.2 432.2 178.5 431.5 183.0C430.8 187.5 430.2 190.9 429.7 195.0C429.2 199.1 428.8 203.7 428.4 207.4C428.0 211.1 427.7 214.1 427.2 217.4C426.7 220.7 426.1 223.2 425.6 227.3C425.1 231.4 424.6 237.9 424.3 242.2C424.0 246.4 423.8 251.0 423.7 252.8" fill="none" stroke="#4a8eb6" stroke-width="1.15"/><path d="M435.5 14.8C435.6 17.8 435.8 26.7 435.9 32.8C436.0 38.9 436.0 46.9 436.1 51.5C436.2 56.1 436.4 57.1 436.4 60.2C436.4 63.3 435.9 67.1 436.1 70.1C436.3 73.1 437.6 75.0 437.6 78.0C437.6 81.0 436.7 84.7 436.2 88.0C435.7 91.3 435.0 93.7 434.5 98.0C434.0 102.3 433.7 108.7 433.4 114.0C433.1 119.3 432.8 124.9 432.6 130.0C432.4 135.1 432.2 140.9 432.4 144.6C432.6 148.3 433.2 148.1 433.6 152.0C434.0 155.9 434.4 162.8 434.5 168.0C434.6 173.2 434.1 178.8 434.5 183.0C434.9 187.2 436.2 190.2 436.6 193.0C437.0 195.8 437.1 194.2 437.1 200.0C437.1 205.8 436.8 218.9 436.6 228.0C436.4 237.1 436.2 250.2 436.1 254.6" fill="none" stroke="#4a8eb6" stroke-width="1.15"/><path d="M443.0 16.1C442.7 18.9 441.9 27.3 441.3 32.8C440.7 38.3 439.9 44.4 439.2 49.0C438.5 53.6 438.0 56.7 437.4 60.2C436.8 63.7 436.1 67.2 435.5 70.1C434.9 73.0 434.0 74.6 433.6 77.6C433.2 80.6 432.9 84.6 433.0 88.0C433.1 91.4 433.2 94.0 433.9 98.0C434.6 102.0 436.2 107.2 437.0 112.0C437.8 116.8 438.0 121.6 438.6 127.0C439.2 132.4 440.2 140.4 440.5 144.6C440.8 148.8 440.7 149.6 440.3 152.0C439.9 154.4 438.9 156.3 438.2 159.0C437.4 161.7 435.9 164.7 435.8 168.0C435.7 171.3 436.6 176.3 437.5 179.0C438.4 181.7 439.9 182.6 441.0 184.0C442.1 185.4 443.3 186.9 443.8 187.5" fill="none" stroke="#4a8eb6" stroke-width="1.15"/><path d="M435.2 108.0C435.4 110.7 436.1 118.7 436.3 124.0C436.6 129.3 436.8 134.3 436.7 140.0C436.6 145.7 435.8 155.0 435.6 158.0" fill="none" stroke="#4a8eb6" stroke-width="1.15"/><path d="M430.9 45.0C430.8 46.3 430.8 50.8 430.3 53.0C429.9 55.2 428.6 57.2 428.2 58.0" fill="none" stroke="#4a8eb6" stroke-width="1.15"/><path d="M425.6 74.5C425.8 74.1 426.5 72.7 427.0 72.0C427.5 71.3 428.2 70.4 428.4 70.1" fill="none" stroke="#4a8eb6" stroke-width="1.15"/><path d="M441.7 131.9C441.6 132.8 441.3 134.9 441.1 137.0C440.9 139.1 440.6 143.3 440.5 144.6" fill="none" stroke="#4a8eb6" stroke-width="1.15"/><path d="M432.5 183.0C432.6 184.5 433.2 188.9 433.2 192.0C433.2 195.1 433.2 197.9 432.6 201.5C432.1 205.1 430.7 209.9 429.9 213.6C429.1 217.3 428.1 220.5 428.0 223.6C427.9 226.7 428.8 228.8 429.3 232.3C429.8 235.8 430.6 241.2 431.1 244.7C431.6 248.2 432.2 251.9 432.4 253.4" fill="none" stroke="#4a8eb6" stroke-width="1.15"/><path d="M423.9 214.5C424.2 215.1 425.0 216.8 425.6 217.8C426.2 218.8 427.2 220.1 427.5 220.5" fill="none" stroke="#4a8eb6" stroke-width="1.15"/><rect x="431.2" y="90.3" width="5.4" height="16.6" rx="2.43" ry="4" fill="#f0763c" opacity="0.93"/><rect x="431.7" y="160.29999999999998" width="6.4" height="16.6" rx="2.8800000000000003" ry="4" fill="#f0763c" opacity="0.93"/><circle cx="430.9" cy="45.0" r="2.5" fill="url(#bead)"/><circle cx="425.6" cy="74.5" r="2.5" fill="url(#bead)"/><circle cx="441.7" cy="131.9" r="2.5" fill="url(#bead)"/><circle cx="443.8" cy="187.5" r="2.5" fill="url(#bead)"/><circle cx="432.6" cy="201.5" r="2.5" fill="url(#bead)"/><circle cx="423.9" cy="214.5" r="2.5" fill="url(#bead)"/><ellipse cx="427.7" cy="60.8" rx="1.9" ry="3.3" transform="rotate(6 427.7 60.8)" fill="#aca234" stroke="#66641a" stroke-width="1.0"/><ellipse cx="427.7" cy="60.8" rx="0.85" ry="1.81" transform="rotate(6 427.7 60.8)" fill="#d8d070" opacity="0.8"/><ellipse cx="427.4" cy="67.0" rx="1.9" ry="3.3" transform="rotate(6 427.4 67.0)" fill="#aca234" stroke="#66641a" stroke-width="1.0"/><ellipse cx="427.4" cy="67.0" rx="0.85" ry="1.81" transform="rotate(6 427.4 67.0)" fill="#d8d070" opacity="0.8"/><ellipse cx="436.1" cy="59.6" rx="1.9" ry="3.3" transform="rotate(6 436.1 59.6)" fill="#aca234" stroke="#66641a" stroke-width="1.0"/><ellipse cx="436.1" cy="59.6" rx="0.85" ry="1.81" transform="rotate(6 436.1 59.6)" fill="#d8d070" opacity="0.8"/><ellipse cx="435.5" cy="65.4" rx="1.9" ry="3.3" transform="rotate(6 435.5 65.4)" fill="#aca234" stroke="#66641a" stroke-width="1.0"/><ellipse cx="435.5" cy="65.4" rx="0.85" ry="1.81" transform="rotate(6 435.5 65.4)" fill="#d8d070" opacity="0.8"/><ellipse cx="430.2" cy="128.4" rx="1.9" ry="3.3" transform="rotate(6 430.2 128.4)" fill="#aca234" stroke="#66641a" stroke-width="1.0"/><ellipse cx="430.2" cy="128.4" rx="0.85" ry="1.81" transform="rotate(6 430.2 128.4)" fill="#d8d070" opacity="0.8"/><ellipse cx="430.5" cy="135.2" rx="1.9" ry="3.3" transform="rotate(6 430.5 135.2)" fill="#aca234" stroke="#66641a" stroke-width="1.0"/><ellipse cx="430.5" cy="135.2" rx="0.85" ry="1.81" transform="rotate(6 430.5 135.2)" fill="#d8d070" opacity="0.8"/><ellipse cx="439.8" cy="147.5" rx="1.9" ry="3.3" transform="rotate(6 439.8 147.5)" fill="#aca234" stroke="#66641a" stroke-width="1.0"/><ellipse cx="439.8" cy="147.5" rx="0.85" ry="1.81" transform="rotate(6 439.8 147.5)" fill="#d8d070" opacity="0.8"/><ellipse cx="440.5" cy="152.4" rx="1.9" ry="3.3" transform="rotate(6 440.5 152.4)" fill="#aca234" stroke="#66641a" stroke-width="1.0"/><ellipse cx="440.5" cy="152.4" rx="0.85" ry="1.81" transform="rotate(6 440.5 152.4)" fill="#d8d070" opacity="0.8"/><ellipse cx="427.7" cy="221.7" rx="1.9" ry="3.3" transform="rotate(6 427.7 221.7)" fill="#aca234" stroke="#66641a" stroke-width="1.0"/><ellipse cx="427.7" cy="221.7" rx="0.85" ry="1.81" transform="rotate(6 427.7 221.7)" fill="#d8d070" opacity="0.8"/><ellipse cx="427.7" cy="227.5" rx="1.9" ry="3.3" transform="rotate(6 427.7 227.5)" fill="#aca234" stroke="#66641a" stroke-width="1.0"/><ellipse cx="427.7" cy="227.5" rx="0.85" ry="1.81" transform="rotate(6 427.7 227.5)" fill="#d8d070" opacity="0.8"/><ellipse cx="430.2" cy="53.0" rx="3.8" ry="1.8" transform="rotate(5 430.2 53.0)" fill="#aca234" stroke="#66641a" stroke-width="1.0"/><ellipse cx="430.2" cy="53.0" rx="1.71" ry="0.99" transform="rotate(5 430.2 53.0)" fill="#d8d070" opacity="0.8"/><ellipse cx="433.6" cy="195.9" rx="3.6" ry="1.8" transform="rotate(15 433.6 195.9)" fill="#aca234" stroke="#66641a" stroke-width="1.0"/><ellipse cx="433.6" cy="195.9" rx="1.62" ry="0.99" transform="rotate(15 433.6 195.9)" fill="#d8d070" opacity="0.8"/><ellipse cx="438.2" cy="197.9" rx="3.6" ry="1.8" transform="rotate(20 438.2 197.9)" fill="#aca234" stroke="#66641a" stroke-width="1.0"/><ellipse cx="438.2" cy="197.9" rx="1.62" ry="0.99" transform="rotate(20 438.2 197.9)" fill="#d8d070" opacity="0.8"/><ellipse cx="424.7" cy="234.5" rx="3.8" ry="1.9" transform="rotate(5 424.7 234.5)" fill="#aca234" stroke="#66641a" stroke-width="1.0"/><ellipse cx="424.7" cy="234.5" rx="1.71" ry="1.04" transform="rotate(5 424.7 234.5)" fill="#d8d070" opacity="0.8"/></g></g>
<g id="photo-long" clip-path="url(#cLP)">
<rect x="460" y="9" width="47" height="249" fill="url(#lpbg2)"/>
<g filter="url(#bl5)"><path d="M455 200L512 120V215L455 262Z" fill="#3a3c38" opacity="0.5"/></g>
<path d="M460 9h2.4v249h-2.4z" fill="#8c8e86" opacity="0.35"/>
<g filter="url(#bl4)">
<path d="M494 11H496.4V28.8H494Z" fill="#9c9c8e"/>
<path d="M496.2 12.9L500.6 10.2V25.6L496.2 28.8Z" fill="#e2decc"/>
<path d="M499.6 11V25" stroke="#f4f2e6" stroke-width="1.2"/>
<path d="M485.6 29L487.2 249.5" stroke="#a2a49e" stroke-width="2.3" opacity="0.85"/>
<path d="M484.7 29L486.3 249.5M486.5 29L488.1 249.5" stroke="#c0c2bc" stroke-width="0.5" opacity="0.6"/>
<path d="M487.2 238V250" stroke="#b4b6ae" stroke-width="3.6"/>
<path d="M472.7 257.5L479.2 249.1H496.8L502.6 257.5Z" fill="#c8cabc"/>
<path d="M479.2 249.4H496.8M474 256L479.2 249.4" stroke="#ecefe4" stroke-width="1"/>
<path d="M480 253.5H495" stroke="#a4a698" stroke-width="1.6"/>
</g>
<rect x="462.4" y="11.1" width="31.6" height="18" fill="#fff" stroke="#9a9a92" stroke-width="0.4"/>
<text x="463.7" y="21.7" style="font-size:11.7px;fill:#111;stroke:#111;stroke-width:0.25px">5 mm</text>
<path d="M471.6 26H483" stroke="#111" stroke-width="1.4"/>
<rect x="483.7" y="120" width="7" height="13" fill="none" stroke="#d01c30" stroke-width="1.3"/>
</g>
<path d="M449.7 13.1L483.6 120M449.4 255.5L483.6 133" stroke="#c81a2e" stroke-width="1.5" fill="none"/>


<g id="diff-left" clip-path="url(#cL)">
<rect x="35" y="67" width="91" height="104" fill="url(#gL)"/>
<rect x="35" y="67" width="91" height="104" fill="url(#gLo)"/>
<path d="M35.6 118.9H125.4" stroke="#14301c" stroke-width="1.5" opacity="0.92"/>
<path d="M37.4 67V171M59.7 67V171M81.8 67V171M103.9 67V171" stroke="#07120c" stroke-width="1.8"/>
</g>
<g id="diff-right" clip-path="url(#cR)">
<rect x="538" y="73" width="90" height="104" fill="url(#gR)"/>
<rect x="538" y="73" width="90" height="104" fill="url(#gRv)"/>
<ellipse cx="565.6" cy="119.6" rx="2.3" ry="1.5" fill="#e85a28"/>
<ellipse cx="565.7" cy="119.6" rx="1.3" ry="0.9" fill="#5a30c0"/>
<g filter="url(#b2)"><path d="M607.5 119.4H622" stroke="#7ef4f8" stroke-width="2.2" stroke-linecap="round"/></g>
<path d="M608.5 119.4H611.5M616.5 119.4H621" stroke="#c8ffff" stroke-width="1.3" stroke-linecap="round" opacity="0.8"/>
<path d="M538 125.2H628" stroke="#08142c" stroke-width="1.4" opacity="0.9"/>
<path d="M560.2 73V177M582.8 73V177M604.9 73V177" stroke="#050a1c" stroke-width="1.8"/>
<path d="M607.8 83.6h2.7v13.3h1.8l-3.15 13.9l-3.15 -13.9h1.8z" fill="#fff"/>
<path d="M617.6 83.6h2.7v13.3h1.8l-3.15 13.9l-3.15 -13.9h1.8z" fill="#fff"/>
</g>
<g id="stretch-labels">
<text x="359" y="109" style="font-size:15.3px;fill:#3a7ab4;stroke:#3a7ab4;stroke-width:0.3px;letter-spacing:0.72px">strech</text>
<path d="M365.3 118.7H392" stroke="#2e75b6" stroke-width="1.3" fill="none"/>
<path d="M398.6 118.7L389.6 115.2L391.6 118.7L389.6 122.2Z" fill="#2e75b6"/>
<path d="M398.9 131.5H372" stroke="#d9622b" stroke-width="1.3" fill="none"/>
<path d="M366 131.5L375 128L373 131.5L375 135Z" fill="#d9622b"/>
<text x="356.6" y="152" style="font-size:14.9px;fill:#d0602e;stroke:#d0602e;stroke-width:0.3px;letter-spacing:0.32px">release</text>
</g>
<g id="red-arrows"><path d="M393.6 45.3L420.7 83.6" stroke="#f3211c" stroke-width="2.2" fill="none"/><path d="M426.8 92.2L417.3 86.1L424.2 81.2Z" fill="#f3211c"/><path d="M244.9 185.7L253.2 168.2" stroke="#f3211c" stroke-width="2.2" fill="none"/><path d="M257.7 158.7L257.0 170.0L249.4 166.4Z" fill="#f3211c"/><path d="M310.2 187.1L301.5 166.9" stroke="#f3211c" stroke-width="2.2" fill="none"/><path d="M297.4 157.3L305.4 165.3L297.7 168.6Z" fill="#f3211c"/></g>
</g>
</svg></body></html>
